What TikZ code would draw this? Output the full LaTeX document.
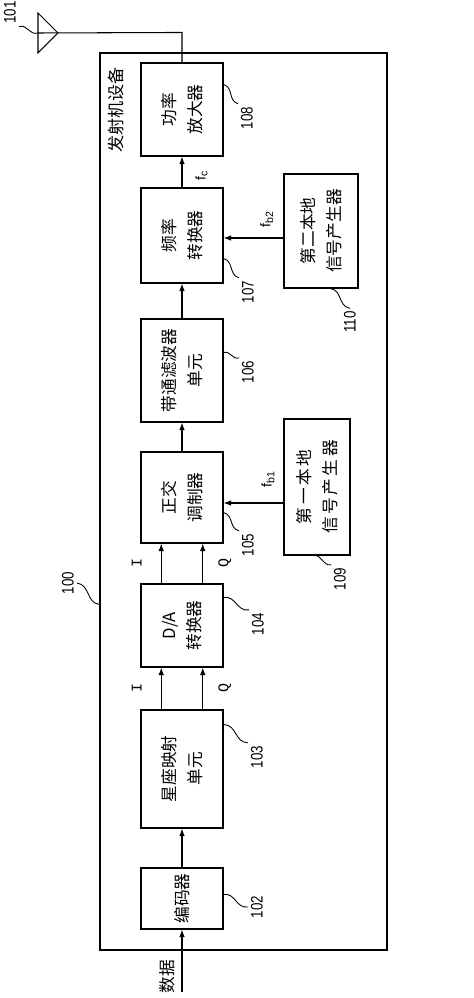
\documentclass[tikz,border=0pt]{standalone}
\usepackage{fontspec}
\setmainfont{Liberation Sans}
\newfontfamily\cjk{Noto Sans CJK SC}
\newfontfamily\numfont[FakeStretch=0.8]{Liberation Sans}
\newfontfamily\iqfont{Liberation Mono}
\usetikzlibrary{arrows.meta,calc}

% wavy leader from a box to its reference numeral
\newcommand{\reflead}[2]{%
  \draw[leader] (#1) .. controls ($(#1)!0.45!35:(#2)$) and ($(#2)!0.45!35:(#1)$) .. (#2);}

\begin{document}
\begin{tikzpicture}[x=0.2mm, y=0.2mm, rotate=90, transform shape,
    blk/.style={draw, line width=0.6pt, inner sep=0pt, align=center,
      minimum height=82*0.2mm, font=\cjk\fontsize{9.5}{14.5}\selectfont},
    arr/.style={line width=0.6pt, -{Latex[length=1.5mm,width=1.1mm]}},
    sig/.style={font=\fontsize{8}{9}\selectfont, inner sep=0pt},
    iq/.style={font=\iqfont\fontsize{8.5}{9}\selectfont, inner sep=0pt},
    num/.style={font=\numfont\fontsize{9.5}{11}\selectfont, inner sep=1.5pt},
    leader/.style={line width=0.5pt}]
  \useasboundingbox (0,0) rectangle (998,474);

  % transmitter frame
  \node[draw, line width=0.6pt, minimum width=897*0.2mm, minimum height=287*0.2mm] (b100) at (496.5,230.5) {};
  \node[font=\cjk\fontsize{9.7}{12}\selectfont] (dev) at (888,358) {发射机设备};

  % main chain
  \foreach \nm/\u/\w/\txt in {b102/99.5/61/{编码器}, b103/229/118/{星座映射\\单元},
      b104/372.5/83/{D/A\\转换器}, b105/500.5/91/{正交\\调制器},
      b106/627.5/103/{带通滤波器\\单元}, b107/762.5/95/{频率\\转换器},
      b108/888.5/93/{功率\\放大器}}
    \node[blk, minimum width=\w*0.2mm] (\nm) at (\u,292) {\txt};

  % local signal generators
  \node[blk, minimum width=114*0.2mm, minimum height=74*0.2mm] (b110) at (767,153) {第二本地\\信号产生器};
  \node[blk, minimum width=136*0.2mm, minimum height=66*0.2mm,
    font={\cjk\fontsize{9.5}{14.5}\selectfont\addfontfeature{LetterSpace=15}}] (b109) at (511,157) {第一本地\\信号产生器};

  % antenna
  \coordinate (ant) at (965,436);
  \draw[line width=0.6pt] (b108.east) -- ++(30,0) -- (ant);
  \draw[line width=0.6pt] (ant) ++(-20,0) -- ++(40,0) -- ++(-20,-20) -- cycle;

  % data input
  \coordinate (din) at (6,292);
  \node[font=\cjk\fontsize{9.5}{12}\selectfont] (data) at (21,307) {数据};
  \draw[arr] (din) -- (b102);

  \foreach \a/\b in {b102/b103, b105/b106, b106/b107}
    \draw[arr] (\a) -- (\b);
  \draw[arr] (b107) -- node[sig, pos=.375, below=2.6mm] (fc) {f\textsubscript{c}} (b108);

  % I and Q branches
  \foreach \a/\b in {b103/b104, b104/b105} {
    \draw[arr] ($(\a.north east)!.25!(\a.south east)$) -- node[iq, above=3.8mm] (I\a) {I} ($(\b.north west)!.25!(\b.south west)$);
    \draw[arr] ($(\a.north east)!.75!(\a.south east)$) -- node[iq, below=3mm] (Q\a) {Q} ($(\b.north west)!.75!(\b.south west)$);
  }

  \draw[arr] ($(b110.north)+(-7,0)$) -- node[sig, pos=.28, right=2mm] (fb2) {f\textsubscript{b2}} ($(b107.south)+(-2.5,0)$);
  \draw[arr] ($(b109.north)+(-16,0)$) -- node[sig, pos=.26, right=3mm] (fb1) {f\textsubscript{b1}} ($(b105.south)+(-5.5,0)$);

  % reference numerals
  \foreach \k/\u/\v in {100/415/406, 101/985.5/464, 102/91/217, 103/241/217, 104/374/216,
      105/453/226, 106/626/226, 107/706/226, 108/880/227, 109/419/134, 110/676/124}
    \node[num] (n\k) at (\u,\v) {\k};

  \coordinate (l108) at ($(b108.south east)+(-22,0)$);
  \coordinate (l107) at ($(b107.south west)+(25,0)$);
  \coordinate (l106) at ($(b106.south west)+(70,0)$);
  \coordinate (l105) at ($(b105.south west)+(31,0)$);
  \coordinate (l104) at ($(b104.south east)+(-14,0)$);
  \coordinate (l103) at ($(b103.south east)+(-15,0)$);
  \coordinate (l102) at ($(b102.south east)+(-27,0)$);
  \coordinate (l110) at ($(b110.south west)+(0,28)$);
  \coordinate (l109) at ($(b109.south west)+(0,37)$);
  \coordinate (l100) at ($(b100.north west)+(346,0)$);

  \foreach \k/\e in {108/north east, 107/north east, 106/north east, 105/north east,
      104/north east, 103/north east, 102/north, 110/east, 109/north east, 100/south} {
    \reflead{l\k}{n\k.\e}
  }
  \reflead{n101.south west}{ant}
\end{tikzpicture}
\end{document}
